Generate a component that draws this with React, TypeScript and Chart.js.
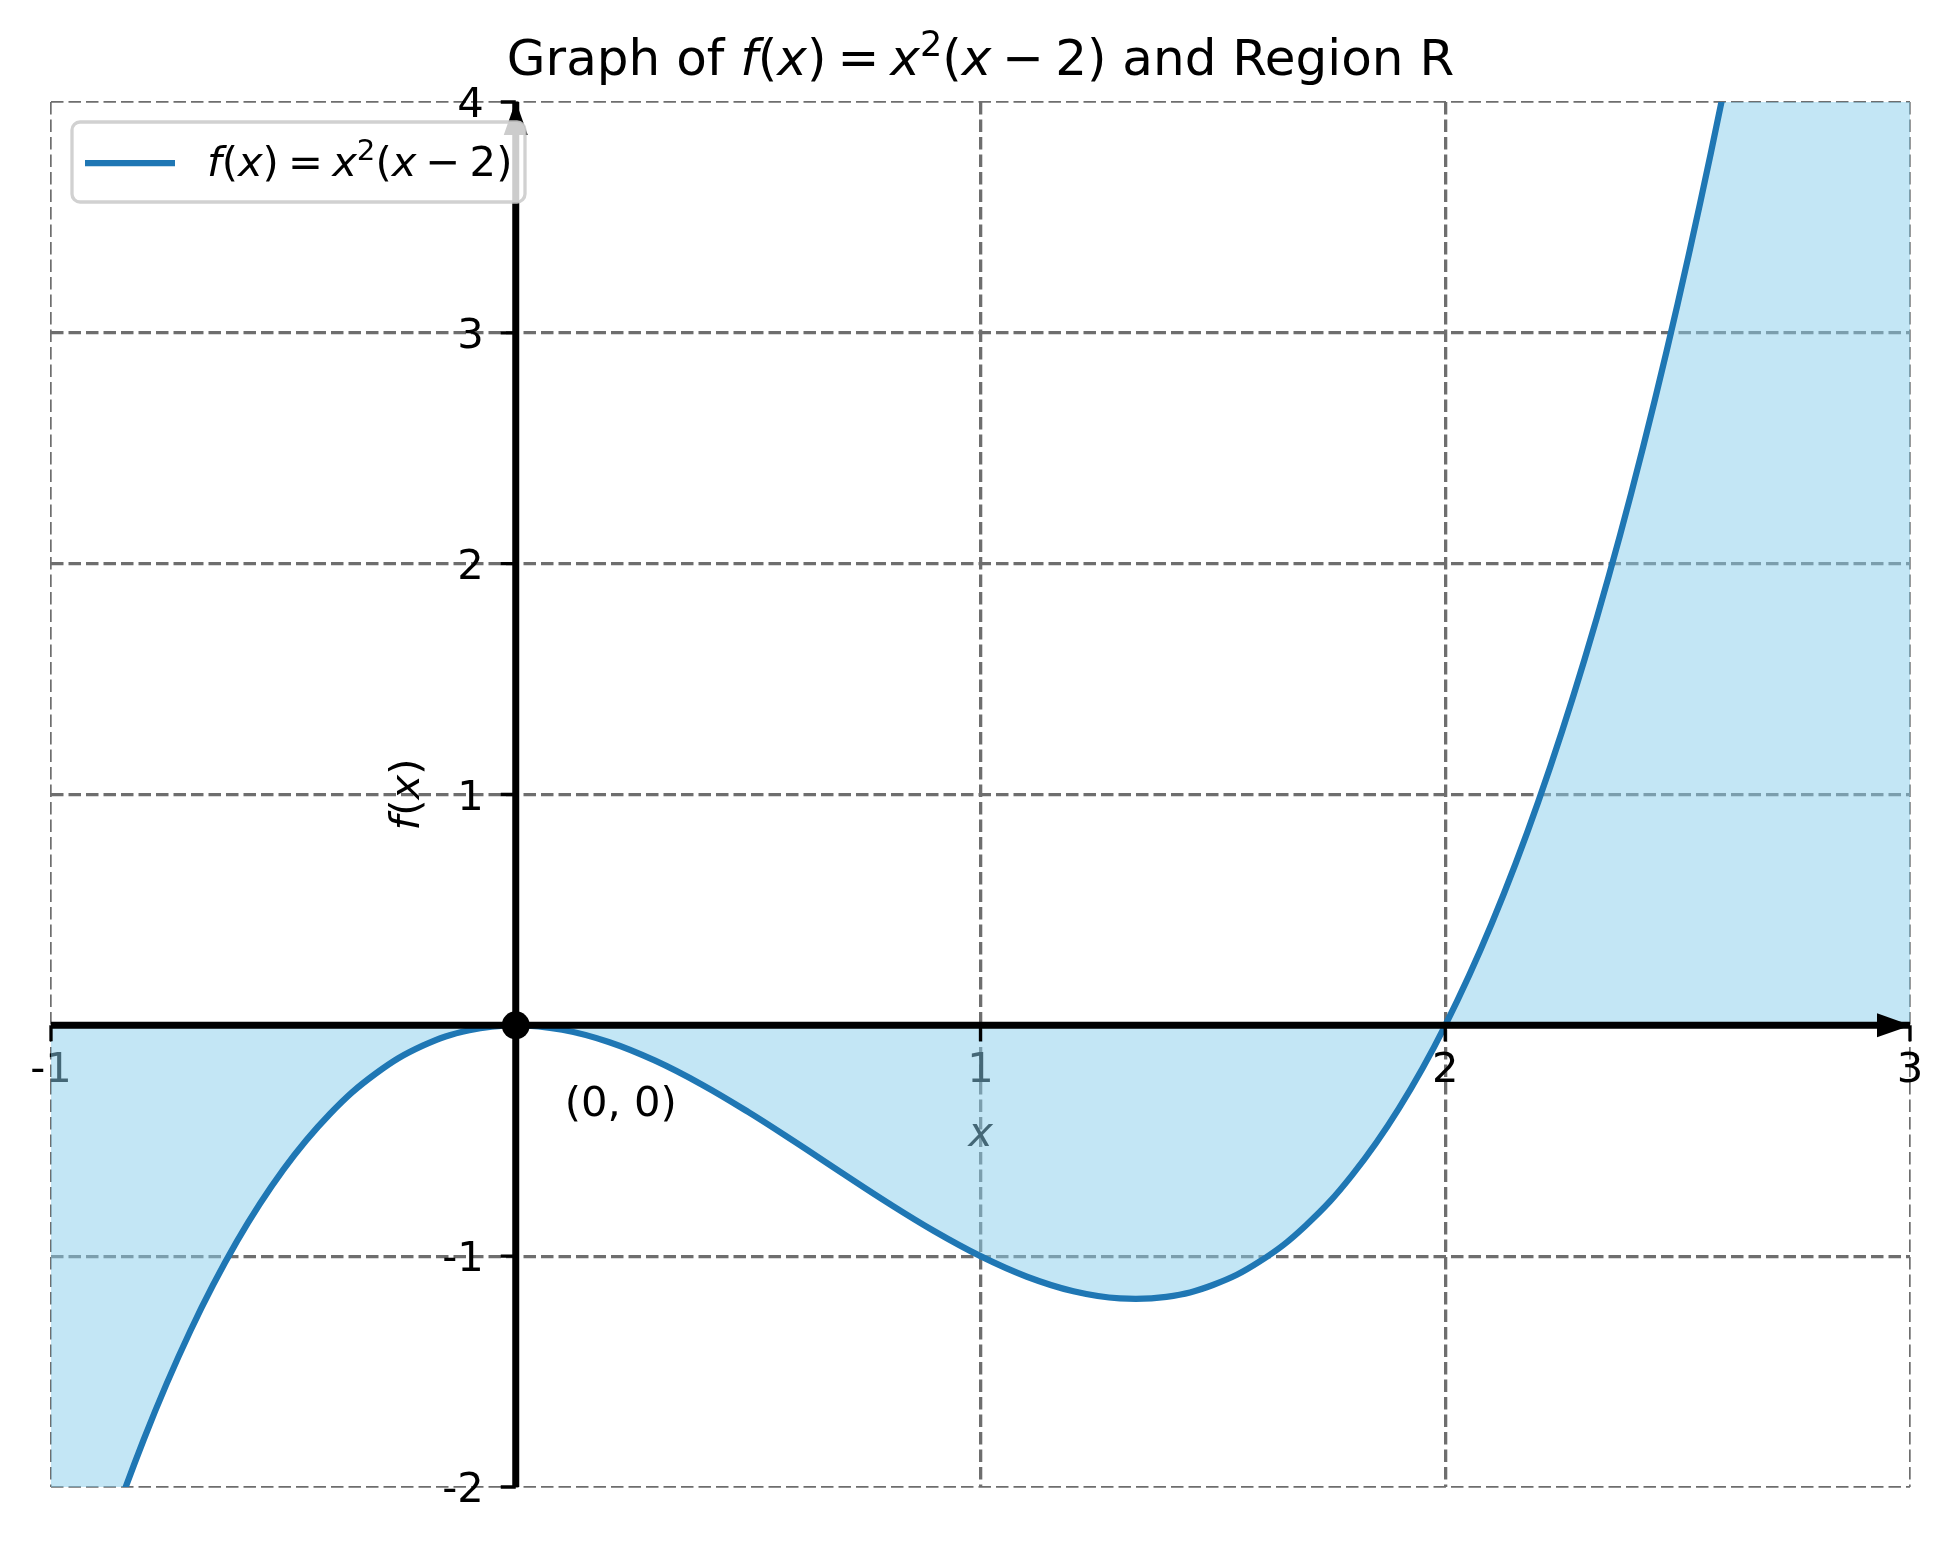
import React, { useEffect, useRef } from "react";
import { Chart, registerables } from "chart.js";

Chart.register(...registerables);

// ---- data ----
const X_VALUES = [
  -1.0, -0.9, -0.8, -0.7, -0.6, -0.5, -0.4, -0.3, -0.2, -0.1,
  0.0, 0.1, 0.2, 0.3, 0.4, 0.5, 0.6, 0.7, 0.8, 0.9,
  1.0, 1.1, 1.2, 1.3, 1.4, 1.5, 1.6, 1.7, 1.8, 1.9,
  2.0, 2.1, 2.2, 2.3, 2.4, 2.5, 2.6, 2.7, 2.8, 2.9, 3.0,
];
const F_VALUES = [
  -3, -2.349, -1.792, -1.323, -0.936, -0.625, -0.384, -0.207, -0.088, -0.021,
  0, -0.019, -0.072, -0.153, -0.256, -0.375, -0.504, -0.637, -0.768, -0.891,
  -1, -1.089, -1.152, -1.183, -1.176, -1.125, -1.024, -0.867, -0.648, -0.361,
  0, 0.441, 0.968, 1.587, 2.304, 3.125, 4.056, 5.103, 6.272, 7.569, 9,
];
const ORIGIN_POINT = [{ x: 0, y: 0 }];
const X_TICK_LABELS = [-1, 1, 2, 3];
const Y_TICK_LABELS = [-2, -1, 1, 2, 3, 4];
const X_RANGE = [-1, 3];
const Y_RANGE = [-2, 4];
const TITLE_BEFORE = "Graph of ";
const TITLE_AFTER = " and Region R";
const POINT_LABEL = "(0, 0)";
const X_AXIS_LABEL = "x";

// ---- rich text (mathtext-like) ----
type Run = { t?: string; it?: boolean; sup?: boolean; gap?: number };
const FORMULA: Run[] = [
  { t: "f", it: true }, { t: "(" }, { t: "x", it: true }, { t: ")" },
  { gap: 0.22 }, { t: "=" }, { gap: 0.22 },
  { t: "x", it: true }, { t: "2", sup: true }, { t: "(" }, { t: "x", it: true },
  { gap: 0.22 }, { t: "\u2212" }, { gap: 0.22 }, { t: "2" }, { t: ")" },
];
const Y_AXIS_LABEL: Run[] = [{ t: "f", it: true }, { t: "(" }, { t: "x", it: true }, { t: ")" }];
const TITLE_RUNS: Run[] = [{ t: TITLE_BEFORE }, ...FORMULA, { t: TITLE_AFTER }];

const FAMILY = "'DejaVu Sans', sans-serif";
const TICK_SIZE = 41.7;
const TITLE_SIZE = 50;
const CURVE_COLOR = "#1f77b4";
const FILL_COLOR = "rgba(135,206,235,0.5)";
const GRID_COLOR = "rgb(110,110,110)";

const fontOf = (size: number, italic?: boolean) =>
  `${italic ? "italic " : ""}${size}px ${FAMILY}`;

function runsWidth(ctx: CanvasRenderingContext2D, runs: Run[], size: number) {
  let w = 0;
  for (const r of runs) {
    if (r.gap) { w += r.gap * size; continue; }
    ctx.font = fontOf(r.sup ? size * 0.7 : size, r.it);
    w += ctx.measureText(r.t || "").width;
  }
  return w;
}

function drawRuns(
  ctx: CanvasRenderingContext2D, runs: Run[], x: number, y: number, size: number,
  align: "left" | "center"
) {
  let cx = align === "center" ? x - runsWidth(ctx, runs, size) / 2 : x;
  ctx.textAlign = "left";
  ctx.textBaseline = "alphabetic";
  for (const r of runs) {
    if (r.gap) { cx += r.gap * size; continue; }
    const s = r.sup ? size * 0.7 : size;
    ctx.font = fontOf(s, r.it);
    ctx.fillText(r.t || "", cx, y - (r.sup ? 0.38 * size : 0));
    cx += ctx.measureText(r.t || "").width;
  }
}

const decorations = {
  id: "decorations",
  beforeDatasetsDraw(chart: any) {
    const { ctx, chartArea, scales } = chart;
    const xs = scales.x, ys = scales.y;
    const ax = xs.getPixelForValue(0);
    const ay = ys.getPixelForValue(0);
    ctx.save();
    ctx.fillStyle = "#000";
    // y tick labels
    ctx.font = fontOf(TICK_SIZE);
    ctx.textAlign = "right";
    ctx.textBaseline = "alphabetic";
    for (const v of Y_TICK_LABELS) {
      ctx.fillText(String(v), ax - 32, ys.getPixelForValue(v) + 0.364 * TICK_SIZE);
    }
    // x axis label
    ctx.font = fontOf(TICK_SIZE, true);
    ctx.textAlign = "center";
    ctx.fillText(X_AXIS_LABEL, (chartArea.left + chartArea.right) / 2, ay + 121);
    // y axis label (rotated)
    ctx.translate(ax - 97, (chartArea.top + chartArea.bottom) / 2);
    ctx.rotate(-Math.PI / 2);
    drawRuns(ctx, Y_AXIS_LABEL, 0, 0, TICK_SIZE, "center");
    ctx.restore();
  },
  beforeDatasetDraw(chart: any, args: any) {
    if (args.index !== 1) return;
    const { ctx, chartArea, scales } = chart;
    const xs = scales.x, ys = scales.y;
    const ax = xs.getPixelForValue(0);
    const ay = ys.getPixelForValue(0);
    ctx.save();
    ctx.strokeStyle = "#000";
    ctx.fillStyle = "#000";
    ctx.lineCap = "butt";
    // tick marks
    ctx.lineWidth = 3.3;
    ctx.beginPath();
    for (const t of xs.ticks) {
      const px = xs.getPixelForValue(t.value);
      ctx.moveTo(px, ay);
      ctx.lineTo(px, ay + 16);
    }
    for (const t of ys.ticks) {
      const py = ys.getPixelForValue(t.value);
      ctx.moveTo(ax - 15, py);
      ctx.lineTo(ax, py);
    }
    ctx.stroke();
    // axis spines through the origin
    ctx.lineWidth = 7;
    ctx.beginPath();
    ctx.moveTo(chartArea.left, ay);
    ctx.lineTo(chartArea.right, ay);
    ctx.moveTo(ax, chartArea.bottom);
    ctx.lineTo(ax, chartArea.top);
    ctx.stroke();
    // arrow heads
    ctx.beginPath();
    ctx.rect(chartArea.left, chartArea.top, chartArea.right - chartArea.left, chartArea.bottom - chartArea.top);
    ctx.clip();
    ctx.beginPath();
    ctx.moveTo(chartArea.right - 33, ay - 12);
    ctx.lineTo(chartArea.right + 1, ay);
    ctx.lineTo(chartArea.right - 33, ay + 12);
    ctx.closePath();
    ctx.fill();
    ctx.beginPath();
    ctx.moveTo(ax - 12, chartArea.top + 33);
    ctx.lineTo(ax, chartArea.top - 1);
    ctx.lineTo(ax + 12, chartArea.top + 33);
    ctx.closePath();
    ctx.fill();
    ctx.restore();
  },
  afterDatasetsDraw(chart: any) {
    const { ctx, chartArea, scales } = chart;
    const xs = scales.x, ys = scales.y;
    const ax = xs.getPixelForValue(0);
    const ay = ys.getPixelForValue(0);
    ctx.save();
    ctx.fillStyle = "#000";
    // point annotation
    ctx.font = fontOf(TICK_SIZE);
    ctx.textAlign = "left";
    ctx.textBaseline = "alphabetic";
    ctx.fillText(POINT_LABEL, ax + 49, ay + 91);
    // title
    drawRuns(ctx, TITLE_RUNS, (chartArea.left + chartArea.right) / 2, chartArea.top - 27, TITLE_SIZE, "center");
    // legend box
    const lx = chartArea.left + 21, ly = chartArea.top + 20, lw = 453, lh = 80;
    ctx.beginPath();
    ctx.roundRect(lx, ly, lw, lh, 8);
    ctx.fillStyle = "rgba(255,255,255,0.8)";
    ctx.fill();
    ctx.strokeStyle = "rgba(204,204,204,0.9)";
    ctx.lineWidth = 3.3;
    ctx.stroke();
    ctx.beginPath();
    ctx.strokeStyle = CURVE_COLOR;
    ctx.lineWidth = 6.25;
    ctx.moveTo(lx + 13, ly + 41);
    ctx.lineTo(lx + 103, ly + 41);
    ctx.stroke();
    ctx.fillStyle = "#000";
    drawRuns(ctx, FORMULA, lx + 135, ly + 54, TICK_SIZE, "left");
    ctx.restore();
  },
};

const isEdge = (v: number, range: number[]) => v === range[0] || v === range[1];

export default function App() {
  const canvasRef = useRef<HTMLCanvasElement | null>(null);

  useEffect(() => {
    const canvas = canvasRef.current;
    if (!canvas) return;
    const chart = new Chart(canvas, {
      type: "line",
      data: {
        datasets: [
          {
            label: "f(x) = x²(x − 2)",
            data: X_VALUES.map((x, i) => ({ x, y: F_VALUES[i] })),
            borderColor: CURVE_COLOR,
            borderWidth: 6.25,
            pointRadius: 0,
            fill: "origin",
            backgroundColor: FILL_COLOR,
            tension: 0.4,
            cubicInterpolationMode: "default",
            clip: 0,
            order: 2,
          } as any,
          {
            type: "scatter",
            label: "origin",
            data: ORIGIN_POINT,
            pointRadius: 14,
            pointBackgroundColor: "#000",
            pointBorderWidth: 0,
            showLine: false,
            clip: false,
            order: 1,
          } as any,
        ],
      },
      options: {
        responsive: false,
        animation: false,
        devicePixelRatio: 1,
        events: [],
        layout: { padding: { left: 51, top: 102, right: 44, bottom: 56 } },
        plugins: {
          legend: { display: false },
          title: { display: false },
          tooltip: { enabled: false },
        },
        scales: {
          x: {
            type: "linear",
            min: X_RANGE[0],
            max: X_RANGE[1],
            position: { y: 0 } as any,
            afterFit: (s: any) => { s.height = 0; },
            ticks: {
              stepSize: 1,
              autoSkip: false,
              maxRotation: 0,
              color: "#000",
              padding: 21,
              font: { family: "DejaVu Sans", size: TICK_SIZE, lineHeight: 1.2 },
              callback: (v: any) => (X_TICK_LABELS.includes(Number(v)) ? String(v) : ""),
            },
            grid: {
              color: GRID_COLOR,
              drawTicks: false,
              lineWidth: (c: any) => (c.tick && isEdge(c.tick.value, X_RANGE) ? 1.7 : 3.3),
            },
            border: { display: false, dash: [12.5, 5] },
          },
          y: {
            type: "linear",
            min: Y_RANGE[0],
            max: Y_RANGE[1],
            position: { x: 0 } as any,
            afterFit: (s: any) => { s.width = 0; },
            ticks: { stepSize: 1, display: false },
            grid: {
              color: GRID_COLOR,
              drawTicks: false,
              lineWidth: (c: any) => (c.tick && isEdge(c.tick.value, Y_RANGE) ? 1.7 : 3.3),
            },
            border: { display: false, dash: [12.5, 5] },
          },
        },
      } as any,
      plugins: [decorations],
    });
    return () => chart.destroy();
  }, []);

  return (
    <div style={{ position: "fixed", left: 0, top: 0, width: 1954, height: 1543, background: "#fff" }}>
      <canvas ref={canvasRef} width={1954} height={1543} style={{ display: "block" }} />
    </div>
  );
}
